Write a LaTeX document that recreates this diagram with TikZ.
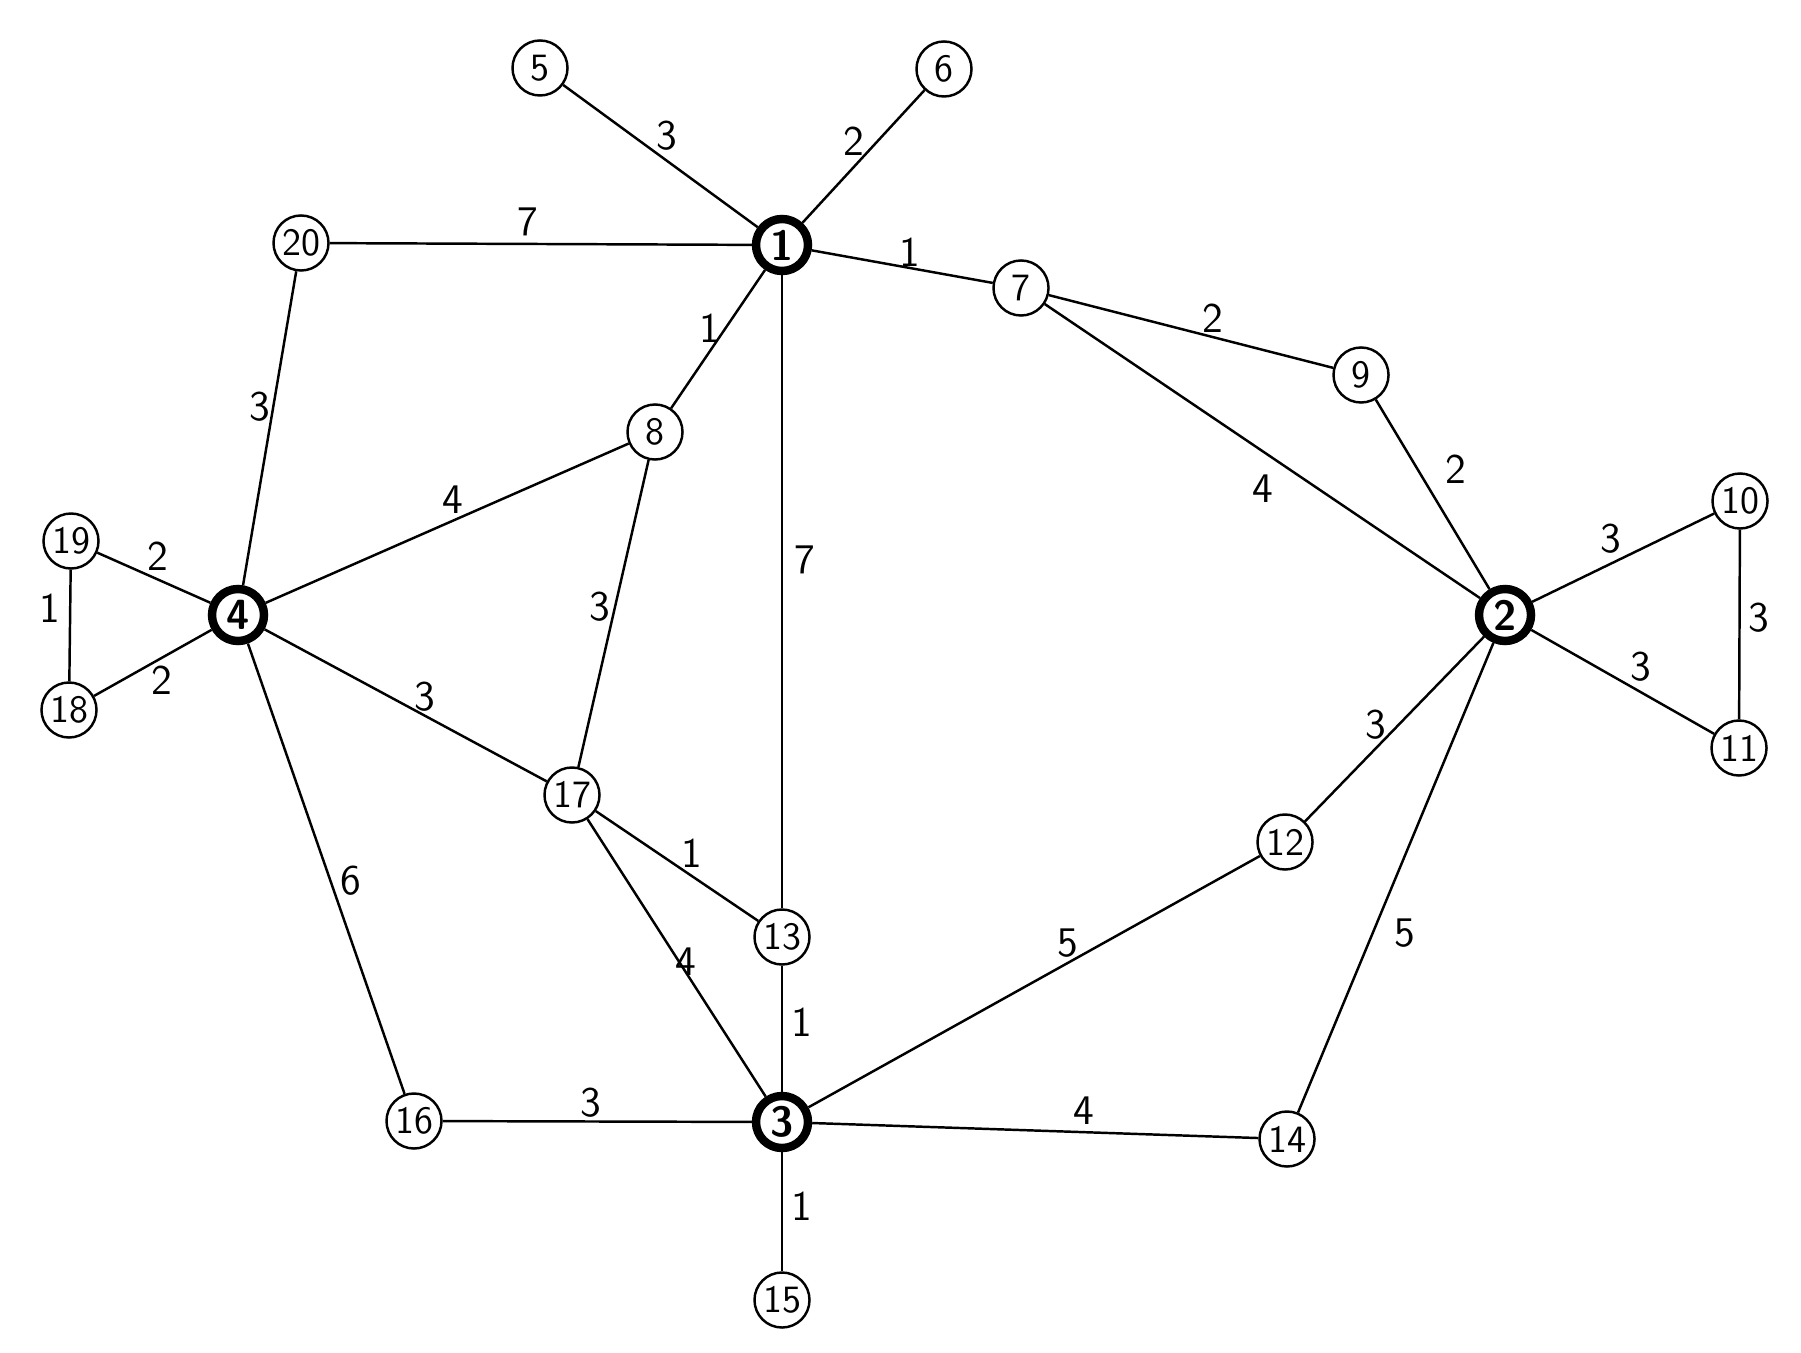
\documentclass[tikz,border=0pt]{standalone}
\begin{document}
\begin{tikzpicture}[x=0.01cm,y=-0.01cm,
  every node/.style={font=\sffamily},
  vtx/.style={circle,draw,line width=0.7pt,minimum size=0.55cm,inner sep=0pt,font=\sffamily\fontsize{11}{11}\selectfont},
  hub/.style={circle,draw,line width=2.4pt,minimum size=0.52cm,inner sep=0pt,font=\sffamily\bfseries\fontsize{12}{12}\selectfont},
  wt/.style={inner sep=0pt,font=\sffamily\fontsize{12}{12}\selectfont},
  edge/.style={line width=0.7pt}]
\useasboundingbox (0,0) rectangle (1801,1352);
% vertices
\node[hub] (n1) at (782,245) {1};
\node[hub] (n2) at (1505,615) {2};
\node[hub] (n3) at (782,1122) {3};
\node[hub] (n4) at (238,615) {4};
\node[vtx] (n5) at (540,68) {5};
\node[vtx] (n6) at (944,69) {6};
\node[vtx] (n7) at (1021,288) {7};
\node[vtx] (n8) at (655,432) {8};
\node[vtx] (n9) at (1361,375) {9};
\node[vtx] (n10) at (1740,501) {10};
\node[vtx] (n11) at (1739,748) {11};
\node[vtx] (n12) at (1285,842) {12};
\node[vtx] (n13) at (782,937) {13};
\node[vtx] (n14) at (1287,1139) {14};
\node[vtx] (n15) at (782,1300) {15};
\node[vtx] (n16) at (414,1121) {16};
\node[vtx] (n17) at (572,795) {17};
\node[vtx] (n18) at (69,710) {18};
\node[vtx] (n19) at (71,541) {19};
\node[vtx] (n20) at (301,243) {20};
% edges
\draw[edge] (n5) -- (n1);
\draw[edge] (n6) -- (n1);
\draw[edge] (n20) -- (n1);
\draw[edge] (n1) -- (n7);
\draw[edge] (n1) -- (n8);
\draw[edge] (n1) -- (n13);
\draw[edge] (n7) -- (n9);
\draw[edge] (n7) -- (n2);
\draw[edge] (n9) -- (n2);
\draw[edge] (n2) -- (n10);
\draw[edge] (n2) -- (n11);
\draw[edge] (n10) -- (n11);
\draw[edge] (n2) -- (n12);
\draw[edge] (n2) -- (n14);
\draw[edge] (n12) -- (n3);
\draw[edge] (n3) -- (n14);
\draw[edge] (n3) -- (n15);
\draw[edge] (n13) -- (n3);
\draw[edge] (n16) -- (n3);
\draw[edge] (n17) -- (n3);
\draw[edge] (n17) -- (n13);
\draw[edge] (n8) -- (n17);
\draw[edge] (n4) -- (n17);
\draw[edge] (n4) -- (n16);
\draw[edge] (n4) -- (n8);
\draw[edge] (n20) -- (n4);
\draw[edge] (n19) -- (n4);
\draw[edge] (n18) -- (n4);
\draw[edge] (n19) -- (n18);
% weights
\node[wt] (w5-1) at (667,136) {3};
\node[wt] (w1-6) at (854,141) {2};
\node[wt] (w20-1) at (528,222) {7};
\node[wt] (w1-7) at (910,252) {1};
\node[wt] (w1-8) at (710,328) {1};
\node[wt] (w20-4) at (260,407) {3};
\node[wt] (w4-8) at (453,500) {4};
\node[wt] (w1-13) at (805,560) {7};
\node[wt] (w8-17) at (600,607) {3};
\node[wt] (w19-4) at (158,556) {2};
\node[wt] (w19-18) at (50,608) {1};
\node[wt] (w18-4) at (162,680) {2};
\node[wt] (w7-9) at (1213,318) {2};
\node[wt] (w7-2) at (1263,489) {4};
\node[wt] (w9-2) at (1456,469) {2};
\node[wt] (w2-10) at (1611,539) {3};
\node[wt] (w10-11) at (1759,618) {3};
\node[wt] (w2-11) at (1641,667) {3};
\node[wt] (w4-17) at (425,697) {3};
\node[wt] (w17-13) at (692,853) {1};
\node[wt] (w4-16) at (351,881) {6};
\node[wt] (w17-3) at (686,962) {4};
\node[wt] (w13-3) at (802,1022) {1};
\node[wt] (w16-3) at (591,1103) {3};
\node[wt] (w3-15) at (802,1206) {1};
\node[wt] (w2-12) at (1376,725) {3};
\node[wt] (w12-3) at (1068,943) {5};
\node[wt] (w2-14) at (1405,933) {5};
\node[wt] (w3-14) at (1084,1111) {4};
\end{tikzpicture}
\end{document}
